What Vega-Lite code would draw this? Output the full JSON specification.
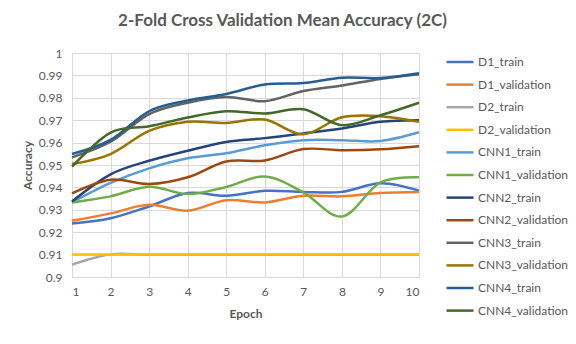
{
  "$schema": "https://vega.github.io/schema/vega-lite/v6.json",
  "width": 347,
  "height": 224,
  "autosize": {"type": "none"},
  "padding": {"left": 72, "top": 53, "right": 157, "bottom": 67},
  "background": "white",
  "title": {
    "text": "2-Fold Cross Validation Mean Accuracy (2C)",
    "font": "Lato",
    "fontSize": 17,
    "fontWeight": "bold",
    "color": "#595959",
    "anchor": "middle",
    "dx": 37,
    "offset": 17
  },
  "data": {
    "values": [
      {"epoch": 1, "series": "D1_train", "accuracy": 0.9239},
      {"epoch": 2, "series": "D1_train", "accuracy": 0.9262},
      {"epoch": 3, "series": "D1_train", "accuracy": 0.9315},
      {"epoch": 4, "series": "D1_train", "accuracy": 0.9375},
      {"epoch": 5, "series": "D1_train", "accuracy": 0.9363},
      {"epoch": 6, "series": "D1_train", "accuracy": 0.9385},
      {"epoch": 7, "series": "D1_train", "accuracy": 0.938},
      {"epoch": 8, "series": "D1_train", "accuracy": 0.938},
      {"epoch": 9, "series": "D1_train", "accuracy": 0.9418},
      {"epoch": 10, "series": "D1_train", "accuracy": 0.9385},
      {"epoch": 1, "series": "D1_validation", "accuracy": 0.9251},
      {"epoch": 2, "series": "D1_validation", "accuracy": 0.9284},
      {"epoch": 3, "series": "D1_validation", "accuracy": 0.9322},
      {"epoch": 4, "series": "D1_validation", "accuracy": 0.9296},
      {"epoch": 5, "series": "D1_validation", "accuracy": 0.9343},
      {"epoch": 6, "series": "D1_validation", "accuracy": 0.9333},
      {"epoch": 7, "series": "D1_validation", "accuracy": 0.9363},
      {"epoch": 8, "series": "D1_validation", "accuracy": 0.936},
      {"epoch": 9, "series": "D1_validation", "accuracy": 0.9375},
      {"epoch": 10, "series": "D1_validation", "accuracy": 0.938},
      {"epoch": 1, "series": "D2_train", "accuracy": 0.9055},
      {"epoch": 2, "series": "D2_train", "accuracy": 0.9101},
      {"epoch": 3, "series": "D2_train", "accuracy": 0.9099},
      {"epoch": 4, "series": "D2_train", "accuracy": 0.9099},
      {"epoch": 5, "series": "D2_train", "accuracy": 0.9099},
      {"epoch": 6, "series": "D2_train", "accuracy": 0.9099},
      {"epoch": 7, "series": "D2_train", "accuracy": 0.9099},
      {"epoch": 8, "series": "D2_train", "accuracy": 0.9099},
      {"epoch": 9, "series": "D2_train", "accuracy": 0.9099},
      {"epoch": 10, "series": "D2_train", "accuracy": 0.9099},
      {"epoch": 1, "series": "D2_validation", "accuracy": 0.91},
      {"epoch": 2, "series": "D2_validation", "accuracy": 0.91},
      {"epoch": 3, "series": "D2_validation", "accuracy": 0.91},
      {"epoch": 4, "series": "D2_validation", "accuracy": 0.91},
      {"epoch": 5, "series": "D2_validation", "accuracy": 0.91},
      {"epoch": 6, "series": "D2_validation", "accuracy": 0.91},
      {"epoch": 7, "series": "D2_validation", "accuracy": 0.91},
      {"epoch": 8, "series": "D2_validation", "accuracy": 0.91},
      {"epoch": 9, "series": "D2_validation", "accuracy": 0.91},
      {"epoch": 10, "series": "D2_validation", "accuracy": 0.91},
      {"epoch": 1, "series": "CNN1_train", "accuracy": 0.9333},
      {"epoch": 2, "series": "CNN1_train", "accuracy": 0.942},
      {"epoch": 3, "series": "CNN1_train", "accuracy": 0.9485},
      {"epoch": 4, "series": "CNN1_train", "accuracy": 0.953},
      {"epoch": 5, "series": "CNN1_train", "accuracy": 0.9552},
      {"epoch": 6, "series": "CNN1_train", "accuracy": 0.9588},
      {"epoch": 7, "series": "CNN1_train", "accuracy": 0.9611},
      {"epoch": 8, "series": "CNN1_train", "accuracy": 0.9611},
      {"epoch": 9, "series": "CNN1_train", "accuracy": 0.9607},
      {"epoch": 10, "series": "CNN1_train", "accuracy": 0.9646},
      {"epoch": 1, "series": "CNN1_validation", "accuracy": 0.9333},
      {"epoch": 2, "series": "CNN1_validation", "accuracy": 0.936},
      {"epoch": 3, "series": "CNN1_validation", "accuracy": 0.9403},
      {"epoch": 4, "series": "CNN1_validation", "accuracy": 0.937},
      {"epoch": 5, "series": "CNN1_validation", "accuracy": 0.9402},
      {"epoch": 6, "series": "CNN1_validation", "accuracy": 0.9449},
      {"epoch": 7, "series": "CNN1_validation", "accuracy": 0.9378},
      {"epoch": 8, "series": "CNN1_validation", "accuracy": 0.927},
      {"epoch": 9, "series": "CNN1_validation", "accuracy": 0.9422},
      {"epoch": 10, "series": "CNN1_validation", "accuracy": 0.9445},
      {"epoch": 1, "series": "CNN2_train", "accuracy": 0.9337},
      {"epoch": 2, "series": "CNN2_train", "accuracy": 0.9458},
      {"epoch": 3, "series": "CNN2_train", "accuracy": 0.9519},
      {"epoch": 4, "series": "CNN2_train", "accuracy": 0.9564},
      {"epoch": 5, "series": "CNN2_train", "accuracy": 0.9603},
      {"epoch": 6, "series": "CNN2_train", "accuracy": 0.962},
      {"epoch": 7, "series": "CNN2_train", "accuracy": 0.9641},
      {"epoch": 8, "series": "CNN2_train", "accuracy": 0.9663},
      {"epoch": 9, "series": "CNN2_train", "accuracy": 0.9693},
      {"epoch": 10, "series": "CNN2_train", "accuracy": 0.97},
      {"epoch": 1, "series": "CNN2_validation", "accuracy": 0.9373},
      {"epoch": 2, "series": "CNN2_validation", "accuracy": 0.9434},
      {"epoch": 3, "series": "CNN2_validation", "accuracy": 0.9415},
      {"epoch": 4, "series": "CNN2_validation", "accuracy": 0.9445},
      {"epoch": 5, "series": "CNN2_validation", "accuracy": 0.9516},
      {"epoch": 6, "series": "CNN2_validation", "accuracy": 0.952},
      {"epoch": 7, "series": "CNN2_validation", "accuracy": 0.9571},
      {"epoch": 8, "series": "CNN2_validation", "accuracy": 0.9566},
      {"epoch": 9, "series": "CNN2_validation", "accuracy": 0.957},
      {"epoch": 10, "series": "CNN2_validation", "accuracy": 0.9584},
      {"epoch": 1, "series": "CNN3_train", "accuracy": 0.9534},
      {"epoch": 2, "series": "CNN3_train", "accuracy": 0.9604},
      {"epoch": 3, "series": "CNN3_train", "accuracy": 0.9727},
      {"epoch": 4, "series": "CNN3_train", "accuracy": 0.9778},
      {"epoch": 5, "series": "CNN3_train", "accuracy": 0.9804},
      {"epoch": 6, "series": "CNN3_train", "accuracy": 0.9785},
      {"epoch": 7, "series": "CNN3_train", "accuracy": 0.983},
      {"epoch": 8, "series": "CNN3_train", "accuracy": 0.9855},
      {"epoch": 9, "series": "CNN3_train", "accuracy": 0.9884},
      {"epoch": 10, "series": "CNN3_train", "accuracy": 0.9905},
      {"epoch": 1, "series": "CNN3_validation", "accuracy": 0.9504},
      {"epoch": 2, "series": "CNN3_validation", "accuracy": 0.9549},
      {"epoch": 3, "series": "CNN3_validation", "accuracy": 0.9652},
      {"epoch": 4, "series": "CNN3_validation", "accuracy": 0.9693},
      {"epoch": 5, "series": "CNN3_validation", "accuracy": 0.9688},
      {"epoch": 6, "series": "CNN3_validation", "accuracy": 0.9703},
      {"epoch": 7, "series": "CNN3_validation", "accuracy": 0.9637},
      {"epoch": 8, "series": "CNN3_validation", "accuracy": 0.9713},
      {"epoch": 9, "series": "CNN3_validation", "accuracy": 0.9718},
      {"epoch": 10, "series": "CNN3_validation", "accuracy": 0.9693},
      {"epoch": 1, "series": "CNN4_train", "accuracy": 0.9549},
      {"epoch": 2, "series": "CNN4_train", "accuracy": 0.9612},
      {"epoch": 3, "series": "CNN4_train", "accuracy": 0.974},
      {"epoch": 4, "series": "CNN4_train", "accuracy": 0.9788},
      {"epoch": 5, "series": "CNN4_train", "accuracy": 0.9817},
      {"epoch": 6, "series": "CNN4_train", "accuracy": 0.9859},
      {"epoch": 7, "series": "CNN4_train", "accuracy": 0.9866},
      {"epoch": 8, "series": "CNN4_train", "accuracy": 0.989},
      {"epoch": 9, "series": "CNN4_train", "accuracy": 0.9888},
      {"epoch": 10, "series": "CNN4_train", "accuracy": 0.991},
      {"epoch": 1, "series": "CNN4_validation", "accuracy": 0.9493},
      {"epoch": 2, "series": "CNN4_validation", "accuracy": 0.9645},
      {"epoch": 3, "series": "CNN4_validation", "accuracy": 0.9673},
      {"epoch": 4, "series": "CNN4_validation", "accuracy": 0.9712},
      {"epoch": 5, "series": "CNN4_validation", "accuracy": 0.974},
      {"epoch": 6, "series": "CNN4_validation", "accuracy": 0.973},
      {"epoch": 7, "series": "CNN4_validation", "accuracy": 0.9749},
      {"epoch": 8, "series": "CNN4_validation", "accuracy": 0.9678},
      {"epoch": 9, "series": "CNN4_validation", "accuracy": 0.9722},
      {"epoch": 10, "series": "CNN4_validation", "accuracy": 0.9778}
    ]
  },
  "mark": {"type": "line", "interpolate": "cardinal", "strokeWidth": 2.5},
  "encoding": {
    "x": {
      "field": "epoch",
      "type": "quantitative",
      "scale": {"domain": [1, 10], "nice": false, "zero": false},
      "axis": {
        "title": "Epoch",
        "values": [1, 2, 3, 4, 5, 6, 7, 8, 9, 10],
        "format": "d",
        "labelPadding": 9,
        "titlePadding": 11
      }
    },
    "y": {
      "field": "accuracy",
      "type": "quantitative",
      "scale": {"domain": [0.9, 1], "nice": false, "zero": false},
      "axis": {
        "title": "Accuracy",
        "values": [0.9, 0.91, 0.92, 0.93, 0.94, 0.95, 0.96, 0.97, 0.98, 0.99, 1],
        "format": ".2~f",
        "labelPadding": 10,
        "titlePadding": 4
      }
    },
    "color": {
      "field": "series",
      "type": "nominal",
      "scale": {
        "domain": ["D1_train", "D1_validation", "D2_train", "D2_validation", "CNN1_train", "CNN1_validation", "CNN2_train", "CNN2_validation", "CNN3_train", "CNN3_validation", "CNN4_train", "CNN4_validation"],
        "range": ["#4472C4", "#ED7D31", "#A5A5A5", "#FFC000", "#5B9BD5", "#70AD47", "#264478", "#9E480E", "#636363", "#997300", "#255E91", "#43682B"]
      },
      "legend": {
        "title": null,
        "orient": "none",
        "legendX": 373,
        "legendY": -6,
        "symbolType": "stroke",
        "symbolSize": 729,
        "symbolStrokeWidth": 2.5,
        "labelOffset": 3,
        "rowPadding": 1.6
      }
    }
  },
  "config": {
    "font": "Lato",
    "view": {"stroke": "#D9D9D9", "strokeWidth": 1},
    "axis": {
      "gridColor": "#D9D9D9",
      "gridWidth": 1,
      "domain": false,
      "ticks": false,
      "labelFont": "Lato",
      "labelFontSize": 12,
      "labelColor": "#595959",
      "titleFont": "Lato",
      "titleFontSize": 12,
      "titleFontWeight": "bold",
      "titleColor": "#595959"
    },
    "legend": {
      "labelFont": "Lato",
      "labelFontSize": 12,
      "labelColor": "#595959"
    }
  }
}
